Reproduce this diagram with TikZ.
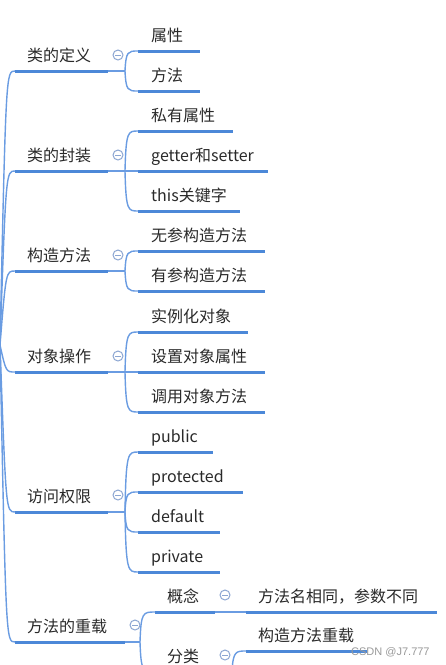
\documentclass[tikz,border=0pt]{standalone}
\usepackage{fontspec}
\setmainfont{Noto Sans CJK SC}
\newfontfamily\wmfont{Liberation Sans}
\definecolor{lineblue}{HTML}{4C88D8}
\definecolor{thinblue}{HTML}{6A9CE2}
\definecolor{circc}{HTML}{8CA6D2}
\definecolor{txtc}{HTML}{2A2A2A}
\definecolor{wmc}{HTML}{9A9A9A}
\begin{document}
\begin{tikzpicture}[x=1pt,y=-1pt,
  txt/.style={font=\fontsize{16}{16}\selectfont, text=txtc, inner sep=0pt, anchor=base west},
  wm/.style={font=\wmfont\fontsize{11}{11}\selectfont, text=wmc, inner sep=0pt, anchor=base west},
  uline/.style={draw=lineblue, line width=3pt},
  thinl/.style={draw=thinblue, line width=1.4pt},
  fold/.style={circle, draw=circc, line width=1pt, minimum size=10pt, inner sep=0pt,
    path picture={\draw[circc,line width=1pt] ([xshift=-2.6pt]path picture bounding box.center) -- ([xshift=2.6pt]path picture bounding box.center);}}
]
\useasboundingbox (0,0) rectangle (446,665);
\fill[white] (0,0) rectangle (446,665);
\clip (0,0) rectangle (446,665);
\coordinate (root) at (0,345);

% ---------- topic 1: 类的定义
\coordinate (t1L) at (15,71); \coordinate (t1R) at (108,71); \coordinate (t1J) at (125,71);
\node[txt] (t1) at (27,61) {类的定义};
\node[fold] (f1) at (118,55) {};
\draw[thinl] (root) .. controls (6,71) and (6,71) .. (t1L);
\draw[uline] (t1L) -- (t1R);
\draw[thinl] (t1R) -- (t1J);
\coordinate (c11L) at (138,51); \coordinate (c11R) at (200,51);
\node[txt] (c11) at (151,41) {属性};
\draw[uline] (c11L) -- (c11R);
\draw[thinl] (t1J) .. controls (126,51) and (128,51) .. (c11L);
\coordinate (c12L) at (138,91); \coordinate (c12R) at (200,91);
\node[txt] (c12) at (151,81) {方法};
\draw[uline] (c12L) -- (c12R);
\draw[thinl] (t1J) .. controls (126,91) and (128,91) .. (c12L);

% ---------- topic 2: 类的封装
\coordinate (t2L) at (15,171); \coordinate (t2R) at (108,171); \coordinate (t2J) at (125,171);
\node[txt] (t2) at (27,161) {类的封装};
\node[fold] (f2) at (118,155) {};
\draw[thinl] (root) .. controls (6,171) and (6,171) .. (t2L);
\draw[uline] (t2L) -- (t2R);
\draw[thinl] (t2R) -- (t2J);
\coordinate (c21L) at (138,131); \coordinate (c21R) at (233,131);
\node[txt] (c21) at (151,121) {私有属性};
\draw[uline] (c21L) -- (c21R);
\draw[thinl] (t2J) .. controls (126,131) and (128,131) .. (c21L);
\coordinate (c22L) at (138,171); \coordinate (c22R) at (268,171);
\node[txt] (c22) at (151,161) {getter和setter};
\draw[uline] (c22L) -- (c22R);
\draw[thinl] (t2J) -- (c22L);
\coordinate (c23L) at (138,211); \coordinate (c23R) at (240,211);
\node[txt] (c23) at (151,201) {this关键字};
\draw[uline] (c23L) -- (c23R);
\draw[thinl] (t2J) .. controls (126,211) and (128,211) .. (c23L);

% ---------- topic 3: 构造方法
\coordinate (t3L) at (15,271); \coordinate (t3R) at (108,271); \coordinate (t3J) at (125,271);
\node[txt] (t3) at (27,261) {构造方法};
\node[fold] (f3) at (118,255) {};
\draw[thinl] (root) .. controls (6,271) and (6,271) .. (t3L);
\draw[uline] (t3L) -- (t3R);
\draw[thinl] (t3R) -- (t3J);
\coordinate (c31L) at (138,251); \coordinate (c31R) at (265,251);
\node[txt] (c31) at (151,241) {无参构造方法};
\draw[uline] (c31L) -- (c31R);
\draw[thinl] (t3J) .. controls (126,251) and (128,251) .. (c31L);
\coordinate (c32L) at (138,291); \coordinate (c32R) at (265,291);
\node[txt] (c32) at (151,281) {有参构造方法};
\draw[uline] (c32L) -- (c32R);
\draw[thinl] (t3J) .. controls (126,291) and (128,291) .. (c32L);

% ---------- topic 4: 对象操作
\coordinate (t4L) at (15,372); \coordinate (t4R) at (108,372); \coordinate (t4J) at (125,372);
\node[txt] (t4) at (27,362) {对象操作};
\node[fold] (f4) at (118,356) {};
\draw[thinl] (root) .. controls (6,372) and (6,372) .. (t4L);
\draw[uline] (t4L) -- (t4R);
\draw[thinl] (t4R) -- (t4J);
\coordinate (c41L) at (138,332); \coordinate (c41R) at (248,332);
\node[txt] (c41) at (151,322) {实例化对象};
\draw[uline] (c41L) -- (c41R);
\draw[thinl] (t4J) .. controls (126,332) and (128,332) .. (c41L);
\coordinate (c42L) at (138,372); \coordinate (c42R) at (265,372);
\node[txt] (c42) at (151,362) {设置对象属性};
\draw[uline] (c42L) -- (c42R);
\draw[thinl] (t4J) -- (c42L);
\coordinate (c43L) at (138,412); \coordinate (c43R) at (265,412);
\node[txt] (c43) at (151,402) {调用对象方法};
\draw[uline] (c43L) -- (c43R);
\draw[thinl] (t4J) .. controls (126,412) and (128,412) .. (c43L);

% ---------- topic 5: 访问权限
\coordinate (t5L) at (15,512); \coordinate (t5R) at (108,512); \coordinate (t5J) at (125,512);
\node[txt] (t5) at (27,502) {访问权限};
\node[fold] (f5) at (118,495) {};
\draw[thinl] (root) .. controls (6,512) and (6,512) .. (t5L);
\draw[uline] (t5L) -- (t5R);
\draw[thinl] (t5R) -- (t5J);
\coordinate (c51L) at (138,452); \coordinate (c51R) at (213,452);
\node[txt] (c51) at (151,442) {public};
\draw[uline] (c51L) -- (c51R);
\draw[thinl] (t5J) .. controls (126,452) and (128,452) .. (c51L);
\coordinate (c52L) at (138,492); \coordinate (c52R) at (243,492);
\node[txt] (c52) at (151,482) {protected};
\draw[uline] (c52L) -- (c52R);
\draw[thinl] (t5J) .. controls (126,492) and (128,492) .. (c52L);
\coordinate (c53L) at (138,532); \coordinate (c53R) at (220,532);
\node[txt] (c53) at (151,522) {default};
\draw[uline] (c53L) -- (c53R);
\draw[thinl] (t5J) .. controls (126,532) and (128,532) .. (c53L);
\coordinate (c54L) at (138,572); \coordinate (c54R) at (220,572);
\node[txt] (c54) at (151,562) {private};
\draw[uline] (c54L) -- (c54R);
\draw[thinl] (t5J) .. controls (126,572) and (128,572) .. (c54L);

% ---------- topic 6: 方法的重载
\coordinate (t6L) at (15,642); \coordinate (t6R) at (125,642); \coordinate (t6J) at (140,642);
\node[txt] (t6) at (27,632) {方法的重载};
\node[fold] (f6) at (135,625) {};
\draw[thinl] (root) .. controls (6,642) and (6,642) .. (t6L);
\draw[uline] (t6L) -- (t6R);
\draw[thinl] (t6R) -- (t6J);
% 概念
\coordinate (c61L) at (155,612); \coordinate (c61R) at (215,612);
\node[txt] (c61) at (167,602) {概念};
\node[fold] (f61) at (225,595) {};
\draw[uline] (c61L) -- (c61R);
\draw[thinl] (t6J) .. controls (141,612) and (143,612) .. (c61L);
\coordinate (g1L) at (246,612); \coordinate (g1R) at (437,612);
\node[txt] (g1) at (258,602) {方法名相同，参数不同};
\draw[thinl] (c61R) -- (g1L);
\draw[uline] (g1L) -- (g1R);
% 分类
\coordinate (c62L) at (155,672); \coordinate (c62R) at (215,672); \coordinate (c62J) at (232,672);
\node[txt] (c62) at (167,662) {分类};
\node[fold] (f62) at (225,655) {};
\draw[uline] (c62L) -- (c62R);
\draw[thinl] (t6J) .. controls (141,672) and (143,672) .. (c62L);
\draw[thinl] (c62R) -- (c62J);
\coordinate (g2L) at (246,651); \coordinate (g2R) at (367,651);
\node[txt] (g2) at (258,641) {构造方法重载};
\draw[uline] (g2L) -- (g2R);
\draw[thinl] (c62J) .. controls (233,651) and (236,651) .. (g2L);

% watermark
\node[wm] (wmk) at (351,655) {CSDN @J7.777};
\end{tikzpicture}
\end{document}
